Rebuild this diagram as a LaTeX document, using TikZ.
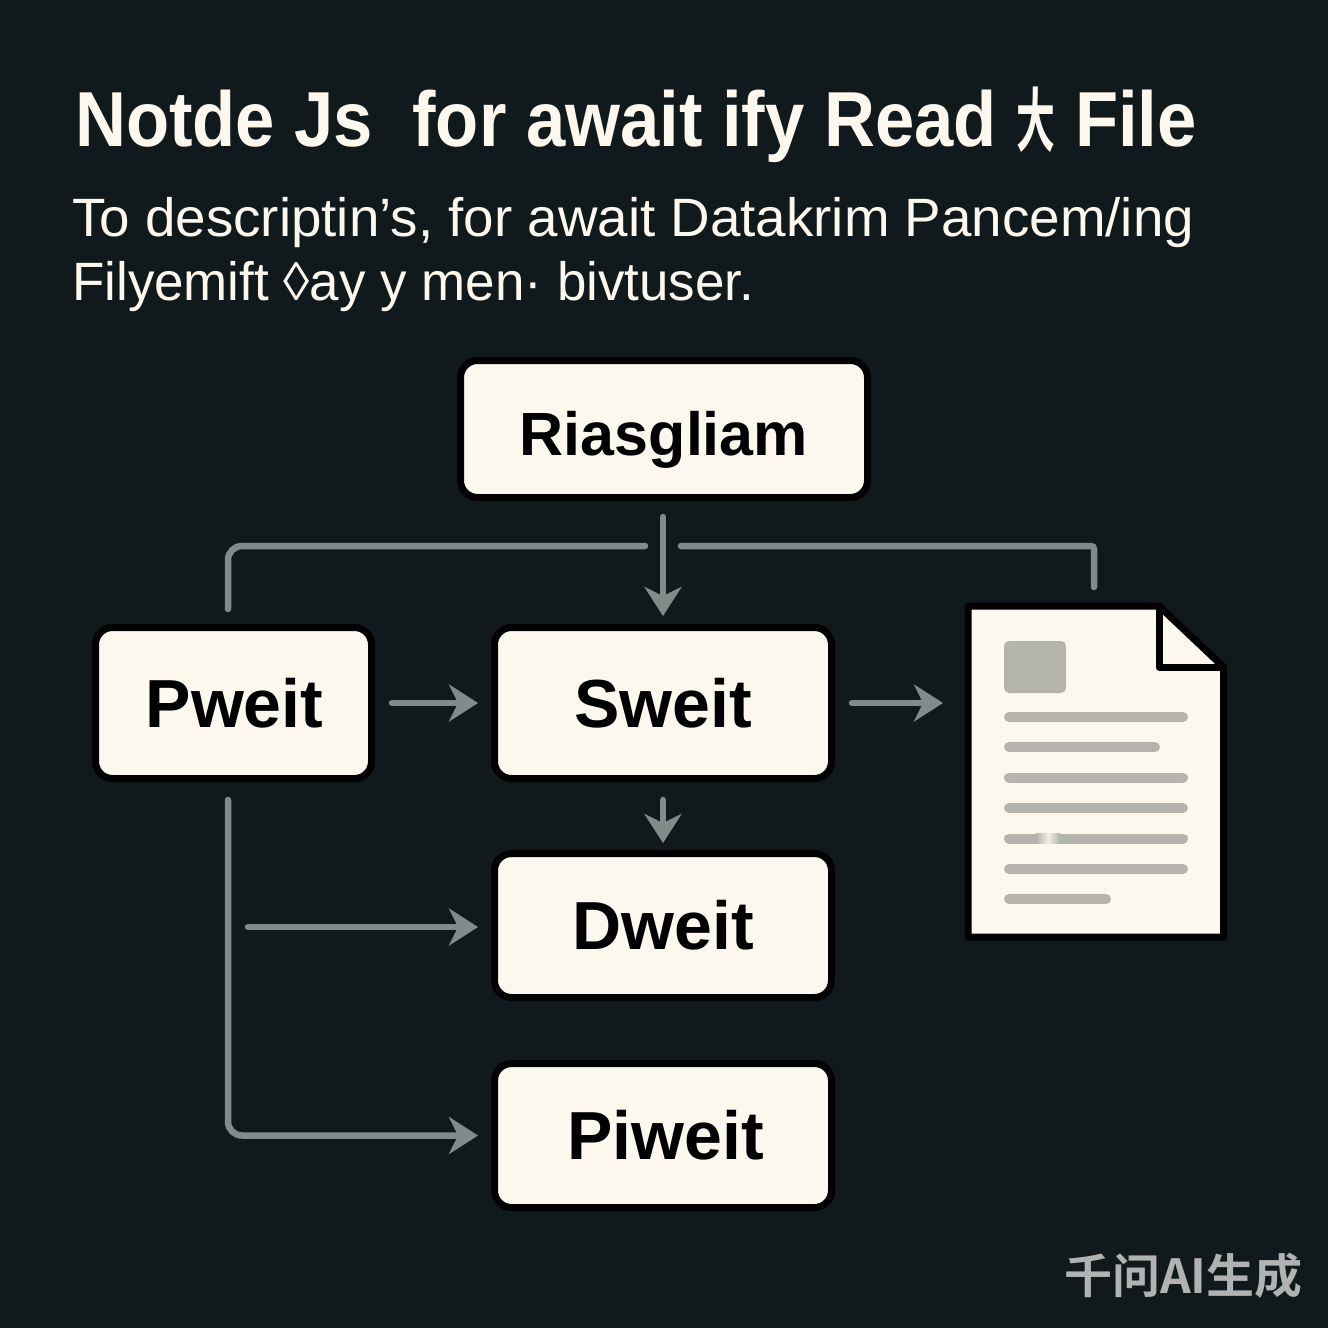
\documentclass[tikz,border=0pt]{standalone}
\usepackage{fontspec}
\setmainfont{Liberation Sans}
\newfontfamily\cjkfont{Noto Sans CJK SC}[BoldFont={* Bold}]
\usetikzlibrary{arrows.meta,calc}
\definecolor{bgdark}{HTML}{101A1D}
\definecolor{cream}{HTML}{FCF8EE}
\definecolor{connector}{HTML}{828B89}
\definecolor{docgrey}{HTML}{B4B4AC}
\definecolor{markgrey}{HTML}{B0B3B2}
\tikzset{
  x=1pt,y=-1pt,
  box/.style={draw=black,fill=cream,line width=7pt,rounded corners=17pt,inner sep=0pt,
    font=\fontsize{68}{68}\selectfont\bfseries,text=black},
  conn/.style={draw=connector,line width=6.5pt,line cap=round},
  arrowed/.style={conn,-{Stealth[length=29pt,width=37pt,inset=9pt]}},
  docline/.style={draw=docgrey,line width=10pt,line cap=round},
  titletext/.style={anchor=base west,inner sep=0pt,text=cream,font=\fontsize{78}{78}\selectfont\bfseries},
  subtext/.style={anchor=base west,inner sep=0pt,text=cream,font=\fontsize{54}{54}\selectfont},
}
\begin{document}
\begin{tikzpicture}
\fill[bgdark] (0,0) rectangle (1328,1328);
\useasboundingbox (0,0) rectangle (1328,1328);

\node[titletext] (title) at (75,146) {\scalebox{.905}[1]{Notde Js\ \ for await ify Read \scalebox{.55}[.9]{\cjkfont\bfseries 大} File}};
\node[subtext] (subone) at (72,236) {\scalebox{1.014}[1]{To descriptin's, for await Datakrim Pancem/ing}};
\node[subtext] (subtwo) at (72,300) {\scalebox{.98}[1]{Filyemift ◊ay y men· bivtuser.}};

\node[box,minimum width=407pt,minimum height=137pt,font=\fontsize{61}{61}\selectfont\bfseries] (top) at (664,429) {\raisebox{-26pt}[0pt][0pt]{Riasgliam}};
\node[box,minimum width=276pt,minimum height=151pt] (pw) at (233.5,703) {\hspace*{2pt}Pweit};
\node[box,minimum width=337pt,minimum height=151pt] (sw) at (663,703) {Sweit};
\node[box,minimum width=337pt,minimum height=144pt] (dw) at (663,925.5) {Dweit};
\node[box,minimum width=337pt,minimum height=144pt] (piw) at (663,1135.5) {\hspace*{5pt}Piweit};

% document
\node[minimum width=262pt,minimum height=338pt,inner sep=0pt,outer sep=0pt] (doc) at (1096,772) {};
\draw[fill=cream,draw=black,line width=7pt,line join=round]
  (968,606) -- (1159,606) -- (1223.5,667) -- (1223.5,937) -- (968,937) -- cycle;
\draw[draw=black,line width=7pt,line join=round] (1159,606) -- (1159,667) -- (1223.5,667);
\fill[docgrey,rounded corners=5pt] (1004,641) rectangle (1066,693);
\foreach \yy/\xx in {717/1183,747/1155,777.5/1183,808/1183,838.5/1183,869/1183,899/1106}
  \draw[docline] (1009,\yy) -- (\xx,\yy);
\shade[left color=docgrey,right color=docgrey,middle color=cream!85!docgrey] (1036,833.5) rectangle (1060,843.5);

% free ends
\coordinate (brLs) at (228,609);
\coordinate (brLe) at (645,546);
\coordinate (brRs) at (681,546);
\coordinate (brRe) at (1094,587);
\coordinate (pwOut) at (228,800);
\coordinate (dwIn) at (248,927);

\draw[arrowed,shorten <=16pt,shorten >=8pt] (sw.north |- top.south) -- (sw.north);
\draw[conn,rounded corners=14pt] (brLs) |- (brLe);
\draw[conn,rounded corners=3pt] (brRs) -| (brRe);
\draw[arrowed,shorten <=17pt,shorten >=13pt] (pw.east) -- (sw.west);
\draw[arrowed,shorten <=17pt,shorten >=22pt] (sw.east) -- (sw.east -| doc.west);
\draw[arrowed,shorten <=18pt,shorten >=7pt] (sw.south) -- (dw.north);
\draw[arrowed] (dwIn) -- ($(dwIn -| dw.west)+(-13,0)$);
\draw[arrowed,shorten >=13pt] (pwOut) {[rounded corners=14pt] |- (piw.west)};

\node[anchor=base west,inner sep=0pt,text=markgrey,font=\cjkfont\bfseries\fontsize{47}{47}\selectfont] (mark) at (1064,1293) {\scalebox{1.02}[1]{千问AI生成}};
\end{tikzpicture}
\end{document}
